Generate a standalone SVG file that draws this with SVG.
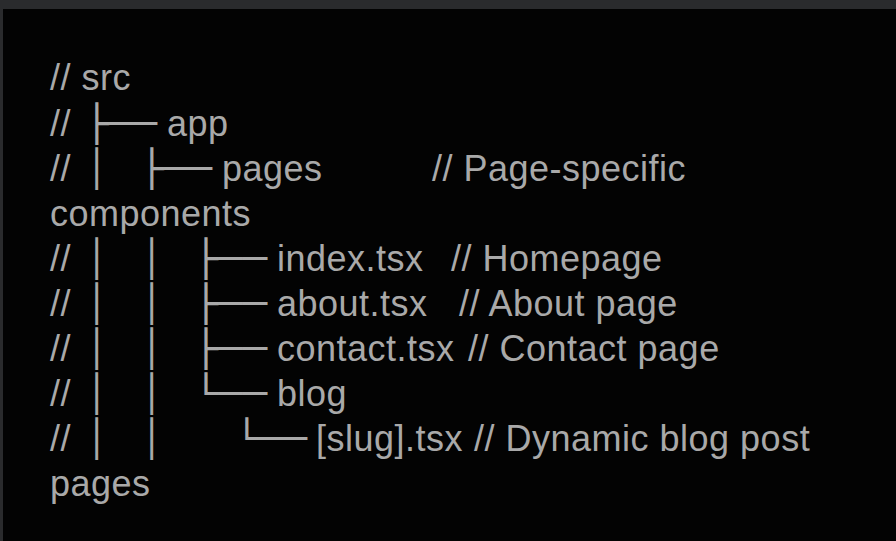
<svg xmlns="http://www.w3.org/2000/svg" width="896" height="541" viewBox="0 0 896 541">
<style>
text{font-family:"Liberation Sans",Arial,sans-serif;font-size:36px;fill:#a9a9a9;letter-spacing:0.5px}
.b{font-family:"DejaVu Sans",sans-serif;font-size:36px;letter-spacing:0}
</style>
<rect width="896" height="541" fill="#2a2b2d"/>
<rect x="3" y="9" width="893" height="532" fill="#030303"/>
<g id="code">
<text x="50" y="90">// src</text>
<text x="50" y="136">//</text><text class="b" x="85" y="136" textLength="72" lengthAdjust="spacingAndGlyphs">├──</text><text x="167" y="136">app</text>
<text x="50" y="181">//</text><text class="b" x="86" y="181">│</text><text class="b" x="140" y="181" textLength="72" lengthAdjust="spacingAndGlyphs">├──</text><text x="222" y="181">pages</text><text x="432" y="181">// Page-specific</text>
<text x="50" y="226">components</text>
<text x="50" y="271">//</text><text class="b" x="86" y="271">│</text><text class="b" x="141" y="271">│</text><text class="b" x="194" y="271" textLength="73" lengthAdjust="spacingAndGlyphs">├──</text><text x="277" y="271">index.tsx</text><text x="451" y="271">// Homepage</text>
<text x="50" y="316">//</text><text class="b" x="86" y="316">│</text><text class="b" x="141" y="316">│</text><text class="b" x="194" y="316" textLength="73" lengthAdjust="spacingAndGlyphs">├──</text><text x="277" y="316">about.tsx</text><text x="459" y="316">// About page</text>
<text x="50" y="361">//</text><text class="b" x="86" y="361">│</text><text class="b" x="141" y="361">│</text><text class="b" x="194" y="361" textLength="73" lengthAdjust="spacingAndGlyphs">├──</text><text x="277" y="361">contact.tsx</text><text x="468" y="361">// Contact page</text>
<text x="50" y="406">//</text><text class="b" x="86" y="406">│</text><text class="b" x="141" y="406">│</text><text class="b" x="194" y="406" textLength="73" lengthAdjust="spacingAndGlyphs">└──</text><text x="277" y="406">blog</text>
<text x="50" y="451">//</text><text class="b" x="86" y="451">│</text><text class="b" x="141" y="451">│</text><text class="b" x="235" y="451" textLength="72" lengthAdjust="spacingAndGlyphs">└──</text><text x="316" y="451">[slug].tsx</text><text x="474" y="451">// Dynamic blog post</text>
<text x="50" y="496">pages</text>
</g>
</svg>
